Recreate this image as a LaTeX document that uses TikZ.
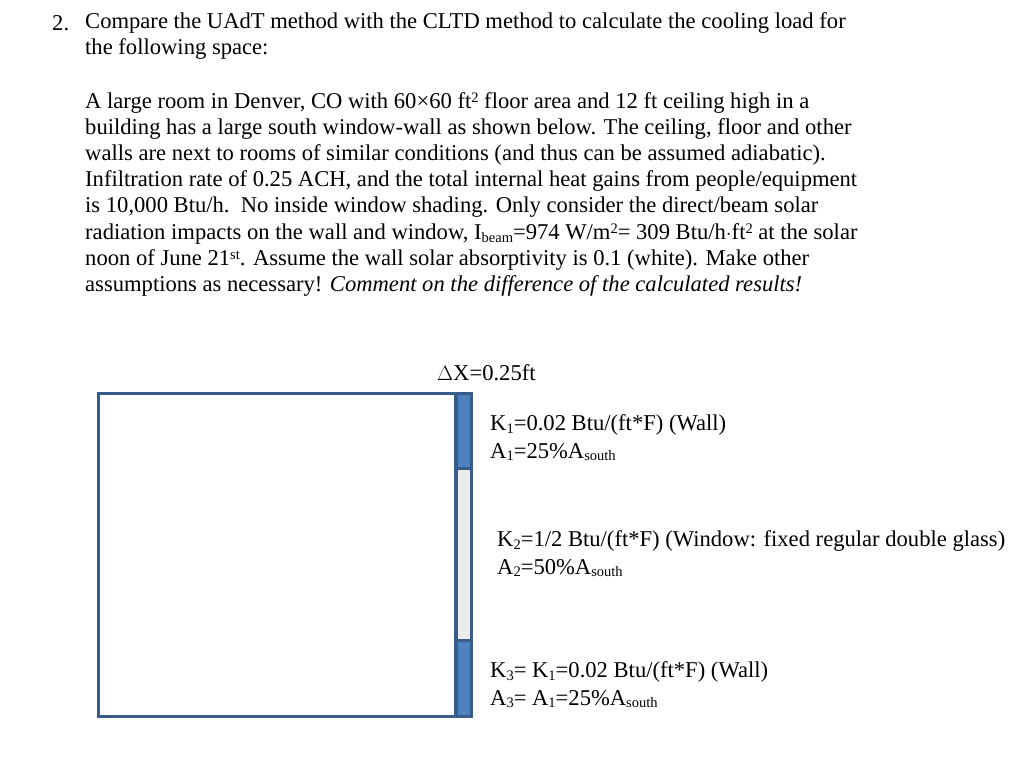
\documentclass[tikz,border=0pt]{standalone}
\usepackage{fontspec}
\setmainfont{Liberation Serif}
\usetikzlibrary{positioning}
\definecolor{wallblue}{RGB}{79,129,189}
\definecolor{walledge}{RGB}{56,93,138}
\definecolor{glass}{RGB}{236,236,236}
\tikzstyle{line} = [anchor=west, inner sep=0pt, font=\fontsize{22.6}{26}\selectfont]
\tikzstyle{lab} = [anchor=west, inner sep=0pt, font=\fontsize{22.6}{26}\selectfont]
\tikzstyle{wall} = [draw=walledge, line width=3pt, fill=wallblue]
\newcommand{\sbs}[1]{\raisebox{-0.25ex}{\fontsize{14.5}{15}\selectfont #1}}
\newcommand{\sps}[1]{\raisebox{0.6ex}{\fontsize{14.5}{15}\selectfont #1}}
\begin{document}
\begin{tikzpicture}[x=1pt, y=-1pt]
\useasboundingbox (0,0) rectangle (1024,772);
% question text
\node (num) [line] at (52,23) {2.};
\node (q1) [line] at (85,23) {Compare the UAdT method with the CLTD method to calculate the cooling load for};
\node (q2) [line] at (85,49) {the following space:};
\node (p1) [line] at (85,103) {A large room in Denver, CO with 60×60 ft\sps{2} floor area and 12 ft ceiling high in a};
\node (p2) [line] at (85,129) {building has a large south window-wall as shown below. The ceiling, floor and other};
\node (p3) [line] at (85,155) {walls are next to rooms of similar conditions (and thus can be assumed adiabatic).};
\node (p4) [line] at (85,181) {Infiltration rate of 0.25 ACH, and the total internal heat gains from people/equipment};
\node (p5) [line] at (85,207) {is 10,000 Btu/h.\ \ No inside window shading. Only consider the direct/beam solar};
\node (p6) [line] at (85,234) {radiation impacts on the wall and window, I\sbs{beam}=974 W/m\sps{2}= 309 Btu/h$\cdot$ft\sps{2} at the solar};
\node (p7) [line] at (85,260) {noon of June 21\sps{st}. Assume the wall solar absorptivity is 0.1 (white). Make other};
\node (p8) [line] at (85,286) {assumptions as necessary! \textit{Comment on the difference of the calculated results!}};
% room and south wall
\draw [walledge, line width=3pt] (98,393) rectangle (455,716);
\draw [wall] (456,393) rectangle (471,468);
\draw [draw=walledge, line width=3pt, fill=glass] (456,468) rectangle (471,640);
\draw [wall] (456,640) rectangle (471,716);
% labels
\node (dx) [lab] at (437,373) {$\Delta$X=0.25ft};
\node (k1) [lab] at (490,425) {K\sbs{1}=0.02 Btu/(ft*F) (Wall)};
\node (a1) [lab] at (490,452) {A\sbs{1}=25\%A\sbs{south}};
\node (k2) [lab] at (497,541) {K\sbs{2}=1/2 Btu/(ft*F) (Window: fixed regular double glass)};
\node (a2) [lab] at (497,568) {A\sbs{2}=50\%A\sbs{south}};
\node (k3) [lab] at (490,672) {K\sbs{3}= K\sbs{1}=0.02 Btu/(ft*F) (Wall)};
\node (a3) [lab] at (490,699) {A\sbs{3}= A\sbs{1}=25\%A\sbs{south}};
\end{tikzpicture}
\end{document}
